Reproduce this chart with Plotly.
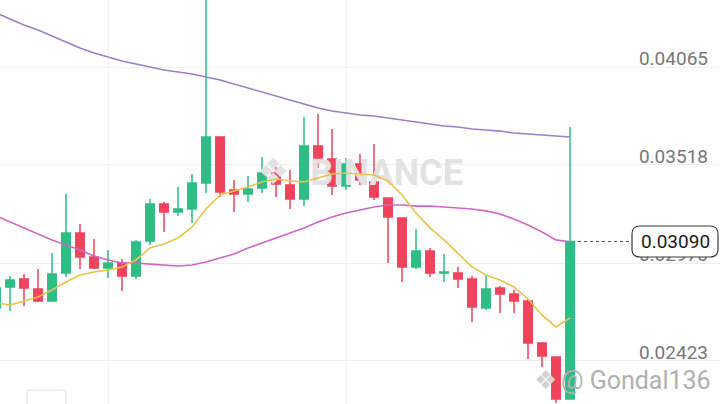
import plotly.graph_objects as go

# ---------------- data ----------------
idx = list(range(42))
opens = [0.02719, 0.02836, 0.02881, 0.02825, 0.02758, 0.02914, 0.03138, 0.03004, 0.02942, 0.02970,
         0.02897, 0.03093, 0.03300, 0.03255, 0.03272, 0.03417, 0.03674, 0.03378, 0.03356, 0.03389,
         0.03473, 0.03406, 0.03328, 0.03624, 0.03551, 0.03400, 0.03523, 0.03423, 0.03333, 0.03221,
         0.02948, 0.03037, 0.02914, 0.02914, 0.02881, 0.02719, 0.02830, 0.02797, 0.02758, 0.02523,
         0.02445, 0.02210]
highs = [0.02847, 0.02897, 0.02909, 0.02937, 0.03026, 0.03356, 0.03188, 0.03104, 0.03043, 0.02992,
         0.03099, 0.03328, 0.03311, 0.03395, 0.03467, 0.04500, 0.03674, 0.03434, 0.03456, 0.03562,
         0.03506, 0.03490, 0.03786, 0.03802, 0.03719, 0.03557, 0.03579, 0.03635, 0.03333, 0.03221,
         0.03160, 0.03054, 0.03020, 0.02948, 0.02897, 0.02903, 0.02842, 0.02819, 0.02769, 0.02529,
         0.02445, 0.03730]
lows = [0.02707, 0.02702, 0.02730, 0.02752, 0.02752, 0.02892, 0.02937, 0.02937, 0.02886, 0.02814,
        0.02881, 0.03071, 0.03143, 0.03233, 0.03194, 0.03361, 0.03339, 0.03255, 0.03311, 0.03361,
        0.03339, 0.03272, 0.03288, 0.03501, 0.03350, 0.03378, 0.03406, 0.03322, 0.02970, 0.02864,
        0.02937, 0.02892, 0.02864, 0.02830, 0.02640, 0.02707, 0.02691, 0.02691, 0.02434, 0.02389,
        0.02188, 0.02210]
closes = [0.02830, 0.02875, 0.02830, 0.02758, 0.02909, 0.03138, 0.03004, 0.02942, 0.02970, 0.02897,
          0.03087, 0.03300, 0.03255, 0.03272, 0.03417, 0.03674, 0.03367, 0.03356, 0.03383, 0.03473,
          0.03411, 0.03328, 0.03624, 0.03557, 0.03400, 0.03523, 0.03434, 0.03339, 0.03227, 0.02948,
          0.03037, 0.02914, 0.02920, 0.02881, 0.02724, 0.02825, 0.02797, 0.02758, 0.02523, 0.02451,
          0.02210, 0.03090]
ma7 = [0.02747, 0.02735, 0.02758, 0.02780, 0.02819, 0.02864, 0.02903, 0.02920, 0.02931, 0.02948,
       0.02987, 0.03054, 0.03076, 0.03110, 0.03171, 0.03272, 0.03350, 0.03372, 0.03395, 0.03423,
       0.03439, 0.03428, 0.03423, 0.03445, 0.03467, 0.03473, 0.03467, 0.03462, 0.03428, 0.03350,
       0.03249, 0.03166, 0.03099, 0.03026, 0.02948, 0.02903, 0.02875, 0.02836, 0.02769, 0.02680,
       0.02613, 0.02663]
ma25 = [0.03233, 0.03199, 0.03166, 0.03132, 0.03099, 0.03071, 0.03043, 0.03009, 0.02987, 0.02970,
        0.02970, 0.02964, 0.02959, 0.02953, 0.02959, 0.02976, 0.02998, 0.03020, 0.03054, 0.03082,
        0.03110, 0.03138, 0.03166, 0.03199, 0.03227, 0.03249, 0.03266, 0.03283, 0.03294, 0.03294,
        0.03288, 0.03288, 0.03283, 0.03277, 0.03272, 0.03261, 0.03244, 0.03216, 0.03182, 0.03143,
        0.03099, 0.03087]
ma99 = [0.04367, 0.04333, 0.04300, 0.04272, 0.04238, 0.04205, 0.04171, 0.04143, 0.04121, 0.04099,
        0.04082, 0.04065, 0.04048, 0.04037, 0.04026, 0.04009, 0.03992, 0.03970, 0.03948, 0.03925,
        0.03903, 0.03881, 0.03858, 0.03836, 0.03819, 0.03808, 0.03797, 0.03791, 0.03780, 0.03769,
        0.03758, 0.03747, 0.03735, 0.03730, 0.03719, 0.03713, 0.03707, 0.03696, 0.03691, 0.03685,
        0.03680, 0.03674]
y_ticks = [0.04065, 0.03518, 0.02970, 0.02423]
y_tick_labels = ["0.04065", "0.03518", "0.02970", "0.02423"]
x_grid = [8, 25]
last_price = closes[-1]
last_label = "0.03090"

GREEN = "#2ebd85"
RED = "#f0435c"

fig = go.Figure()

# watermark (drawn first so candles cover it)
fig.add_trace(go.Scatter(x=[27.9], y=[0.03456], mode="text", text=["<b>BINANCE</b>"],
                         textfont=dict(family="Roboto", size=36, color="#e2e2e2"),
                         hoverinfo="skip", showlegend=False))
fig.add_trace(go.Scatter(x=[19.8], y=[0.03460], mode="text", text=["❖"],
                         textfont=dict(family="DejaVu Sans", size=36, color="#e2e2e2"),
                         hoverinfo="skip", showlegend=False))

fig.add_trace(go.Scatter(x=idx, y=ma99, mode="lines", line=dict(color="#9b7fc4", width=1.6),
                         hoverinfo="skip", showlegend=False))
fig.add_trace(go.Scatter(x=idx, y=ma25, mode="lines", line=dict(color="#cf67c6", width=1.6),
                         hoverinfo="skip", showlegend=False))

fig.add_trace(go.Candlestick(
    x=idx, open=opens, high=highs, low=lows, close=closes,
    increasing=dict(line=dict(color=GREEN, width=1.5), fillcolor=GREEN),
    decreasing=dict(line=dict(color=RED, width=1.5), fillcolor=RED),
    whiskerwidth=0, hoverinfo="skip", showlegend=False))

fig.add_trace(go.Scatter(x=idx, y=ma7, mode="lines", line=dict(color="#e9c34a", width=1.6),
                         hoverinfo="skip", showlegend=False))

# last price dashed line + label box
fig.add_shape(type="line", xref="paper", yref="y", x0=578 / 720, x1=632 / 720,
              y0=last_price, y1=last_price, line=dict(color="#555555", width=1.2, dash="dot"),
              layer="above")
r = 8
w, h = 86, 15.5
path = (f"M {r},{h} L {w - r},{h} Q {w},{h} {w},{h - r} L {w},{-h + r} Q {w},{-h} {w - r},{-h} "
        f"L {r},{-h} Q 0,{-h} 0,{-h + r} L 0,{h - r} Q 0,{h} {r},{h} Z")
fig.add_shape(type="path", xref="paper", yref="y", xsizemode="pixel", ysizemode="pixel",
              xanchor=632 / 720, yanchor=last_price, path=path,
              line=dict(color="#3a3a3a", width=1.2), fillcolor="white", layer="above")
fig.add_annotation(xref="paper", yref="y", x=675 / 720, y=last_price, text=last_label,
                   showarrow=False, font=dict(family="Roboto", size=19, color="#1a1a1a"),
                   xanchor="center", yanchor="middle")

# bottom-right watermark
fig.add_annotation(xref="paper", yref="paper", x=713 / 720, y=1 - 380 / 404, text="@ Gondal136",
                   showarrow=False, font=dict(family="Roboto", size=25, color="#b0b0b0"),
                   xanchor="right", yanchor="middle")
fig.add_annotation(xref="paper", yref="paper", x=545 / 720, y=1 - 380 / 404, text="❖",
                   showarrow=False, font=dict(family="DejaVu Sans", size=26, color="#d2d2d2"),
                   xanchor="center", yanchor="middle")

# bottom-left partial widget
fig.add_shape(type="path", xref="paper", yref="paper",
              path=(f"M {27/720},0 L {27/720},{11/404} Q {27/720},{14/404} {31/720},{14/404} "
                    f"L {62/720},{14/404} Q {66/720},{14/404} {66/720},{11/404} L {66/720},0"),
              line=dict(color="#e2e2e2", width=1.2), layer="above")

fig.update_layout(
    width=720, height=404,
    margin=dict(l=0, r=0, t=0, b=0),
    paper_bgcolor="white", plot_bgcolor="white",
    boxgap=0.14,
    showlegend=False,
    xaxis=dict(range=[0.2857, 51.714], rangeslider=dict(visible=False), showticklabels=False,
               tickvals=x_grid, showgrid=True, gridcolor="#f1f1f1", gridwidth=1,
               zeroline=False, showline=False, ticks=""),
    yaxis=dict(range=[0.021823, 0.044393], side="right", tickvals=y_ticks, ticktext=y_tick_labels,
               ticklabelposition="inside", ticklabelstandoff=9, ticklabelshift=-9,
               tickfont=dict(family="Roboto", size=19, color="#777777"),
               showgrid=True, gridcolor="#efefef", gridwidth=1, zeroline=False, showline=False,
               ticks=""),
)

fig.write_html("out.html", config={"displayModeBar": False},
               post_script="document.body.style.margin='0';document.body.style.overflow='hidden';")
